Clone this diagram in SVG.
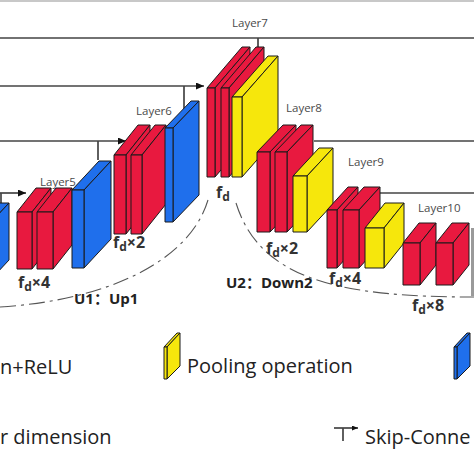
<svg xmlns="http://www.w3.org/2000/svg" width="474" height="474" viewBox="0 0 474 474">
<defs>
<style>
.r{fill:#e8193f;stroke:#1a1a1a;stroke-width:1;stroke-linejoin:round}
.b{fill:#1f6fec;stroke:#1a1a1a;stroke-width:1;stroke-linejoin:round}
.y{fill:#f6e70c;stroke:#1a1a1a;stroke-width:1;stroke-linejoin:round}
.ln{fill:none;stroke:#444;stroke-width:1.7}
.arc{fill:none;stroke:#555;stroke-width:1.1;stroke-dasharray:16 5 3 5}
.lab{font-family:"Open Sans","Noto Sans",sans-serif;font-size:11.5px;fill:#4a4a4a}
.fd{font-family:"Open Sans","Noto Sans",sans-serif;font-size:16px;font-weight:bold;fill:#333}
.u{font-family:"Open Sans","Noto Sans CJK SC",sans-serif;font-size:15px;font-weight:bold;fill:#222}
.lg{font-family:"Open Sans","Noto Sans",sans-serif;font-size:20px;fill:#222}
</style>
<marker id="arr" viewBox="0 0 8 7" refX="8" refY="3.5" markerWidth="8" markerHeight="7" markerUnits="userSpaceOnUse" orient="auto"><path d="M0,0 L8,3.5 L0,7 z" fill="#111"/></marker>
<marker id="arrs" viewBox="0 0 6 5" refX="6" refY="2.5" markerWidth="6" markerHeight="5" markerUnits="userSpaceOnUse" orient="auto"><path d="M0,0 L6,2.5 L0,5 z" fill="#111"/></marker>
</defs>
<rect x="0" y="0" width="474" height="474" fill="#fff"/>
<rect x="0" y="0" width="474" height="2" fill="#c8c8c8"/>

<g id="connectors">
<path class="ln" d="M0,38 H474 M258,38 V47"/>
<path class="ln" d="M0,86 H204" marker-end="url(#arr)"/>
<path class="ln" d="M184,86 V113"/>
<path class="ln" d="M0,141 H126" marker-end="url(#arr)"/>
<path class="ln" d="M98,141 V160"/>
<path class="ln" d="M0,193 H26" marker-end="url(#arr)"/>
<path class="ln" d="M1,193 V204"/>
<path class="ln" d="M314,141 H474"/>
<path class="ln" d="M380,193 H474"/>
<path class="arc" d="M0,307 C110,300 190,260 208,200"/>
<path class="arc" d="M236,203 C260,280 340,297 474,297"/>
</g>

<g id="layer4">
<polygon class="b" points="-30,232 -3,203 9,203 -18,232"/>
<polygon class="b" points="-18,232 9,203 9,260 -18,289"/>
<rect class="b" x="-30" y="232" width="12" height="57"/>
</g>

<g id="layer5">
<polygon class="r" points="17,212 36,188 51,188 32,212"/>
<polygon class="r" points="32,212 51,188 51,245 32,269"/>
<rect class="r" x="17" y="212" width="15" height="57"/>
<polygon class="r" points="37,212 56,188 72,188 53,212"/>
<polygon class="r" points="53,212 72,188 72,245 53,269"/>
<rect class="r" x="37" y="212" width="16" height="57"/>
<polygon class="b" points="72,190 99,161 111,161 84,190"/>
<polygon class="b" points="84,190 111,161 111,239 84,268"/>
<rect class="b" x="72" y="190" width="12" height="78"/>
<text class="lab" x="40" y="186">Layer5</text>
<text class="fd" x="18" y="288">f<tspan font-size="12" dy="3">d</tspan><tspan dy="-3">×4</tspan></text>
</g>

<g id="layer6">
<polygon class="r" points="114,155 138,125 150,125 126,155"/>
<polygon class="r" points="126,155 150,125 150,204 126,234"/>
<rect class="r" x="114" y="155" width="12" height="79"/>
<polygon class="r" points="131,155 155,125 166,125 142,155"/>
<polygon class="r" points="142,155 166,125 166,204 142,234"/>
<rect class="r" x="131" y="155" width="11" height="79"/>
<polygon class="b" points="165,128 191,101 199,101 173,128"/>
<polygon class="b" points="173,128 199,101 199,195 173,222"/>
<rect class="b" x="165" y="128" width="8" height="94"/>
<text class="lab" x="136" y="115">Layer6</text>
<text class="fd" x="113" y="248">f<tspan font-size="12" dy="3">d</tspan><tspan dy="-3">×2</tspan></text>
</g>

<g id="layer7">
<polygon class="r" points="207,88 242,47 250,47 215,88"/>
<polygon class="r" points="215,88 250,47 250,136 215,177"/>
<rect class="r" x="207" y="88" width="8" height="89"/>
<polygon class="r" points="221,88 256,47 264,47 229,88"/>
<polygon class="r" points="229,88 264,47 264,136 229,177"/>
<rect class="r" x="221" y="88" width="8" height="89"/>
<polygon class="y" points="232,97 268,56 278,56 242,97"/>
<polygon class="y" points="242,97 278,56 278,136 242,177"/>
<rect class="y" x="232" y="97" width="10" height="80"/>
<text class="lab" x="232" y="27">Layer7</text>
<text class="fd" x="216" y="198">f<tspan font-size="12" dy="3">d</tspan></text>
</g>

<g id="layer8">
<polygon class="r" points="257,152 283,125 296,125 270,152"/>
<polygon class="r" points="270,152 296,125 296,205 270,232"/>
<rect class="r" x="257" y="152" width="13" height="80"/>
<polygon class="r" points="275,152 301,125 313,125 287,152"/>
<polygon class="r" points="287,152 313,125 313,205 287,232"/>
<rect class="r" x="275" y="152" width="12" height="80"/>
<polygon class="y" points="293,176 319,148 333,148 307,176"/>
<polygon class="y" points="307,176 333,148 333,204 307,232"/>
<rect class="y" x="293" y="176" width="14" height="56"/>
<text class="lab" x="286" y="112">Layer8</text>
<text class="fd" x="266" y="254">f<tspan font-size="12" dy="3">d</tspan><tspan dy="-3">×2</tspan></text>
</g>

<g id="layer9">
<polygon class="r" points="327,210 348,187 358,187 337,210"/>
<polygon class="r" points="337,210 358,187 358,245 337,268"/>
<rect class="r" x="327" y="210" width="10" height="58"/>
<polygon class="r" points="343,210 364,187 380,187 359,210"/>
<polygon class="r" points="359,210 380,187 380,245 359,268"/>
<rect class="r" x="343" y="210" width="16" height="58"/>
<polygon class="y" points="365,228 385,203 404,203 384,228"/>
<polygon class="y" points="384,228 404,203 404,243 384,268"/>
<rect class="y" x="365" y="228" width="19" height="40"/>
<text class="lab" x="348" y="166">Layer9</text>
<text class="fd" x="329" y="284">f<tspan font-size="12" dy="3">d</tspan><tspan dy="-3">×4</tspan></text>
</g>

<g id="layer10">
<polygon class="r" points="403,243 419,223 436,223 420,243"/>
<polygon class="r" points="420,243 436,223 436,265 420,285"/>
<rect class="r" x="403" y="243" width="17" height="42"/>
<polygon class="r" points="436,243 452,223 469,223 453,243"/>
<polygon class="r" points="453,243 469,223 469,265 453,285"/>
<rect class="r" x="436" y="243" width="17" height="42"/>
<text class="lab" x="418" y="212">Layer10</text>
<text class="fd" x="412" y="311">f<tspan font-size="12" dy="3">d</tspan><tspan dy="-3">×8</tspan></text>
</g>

<g id="layer11">
<rect x="471" y="228" width="4" height="68" fill="#9a9a9a"/>
</g>

<g id="stage-labels">
<text class="u" x="74" y="304">U1：Up1</text>
<text class="u" x="226" y="288">U2：Down2</text>
</g>

<g id="legend">
<text class="lg" x="0" y="374">n+ReLU</text>
<polygon class="y" points="164,347 177,333 180,333 167,347"/>
<polygon class="y" points="167,347 180,333 180,366 167,379"/>
<rect class="y" x="164" y="347" width="3" height="32"/>
<text class="lg" x="187" y="373">Pooling operation</text>
<polygon class="b" points="454,347 467,333 470,333 457,347"/>
<polygon class="b" points="457,347 470,333 470,366 457,379"/>
<rect class="b" x="454" y="347" width="3" height="32"/>
<text class="lg" x="0" y="444">r dimension</text>
<path class="ln" d="M334,428 H358" marker-end="url(#arrs)"/>
<path class="ln" d="M343,428 V441"/>
<text class="lg" x="365" y="444">Skip-Conne</text>
</g>
</svg>
